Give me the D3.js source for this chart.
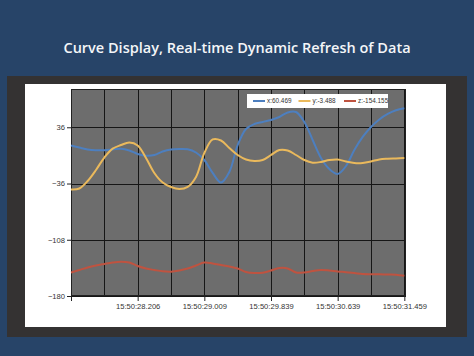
<!DOCTYPE html>
<html>
<head>
<meta charset="utf-8">
<script src="https://cdn.jsdelivr.net/npm/d3@7"></script>
<style>
  html, body { margin: 0; padding: 0; background: #274468; }
  svg { display: block; }
</style>
</head>
<body>
<div id="chart"></div>
<script>
// sample index (x), one point every 2.5 samples
const sampleIdx = d3.range(0, 100.01, 2.5);

const seriesX = [12.7, 10.1, 7.6, 6.6, 6.6, 7.6, 8.6, 6.3, 1.8, -0.4, 0.5, 5.0, 7.6, 8.2, 7.8, 3.7,
  -5.9, -22.5, -34.7, -21.2, 13.3, 33.8, 40.2, 42.8, 45.3, 49.2, 55.0, 55.6, 42.8, 19.7, -3.3,
  -17.4, -23.8, -13.6, 6.9, 23.6, 36.4, 46.0, 53.0, 57.8, 60.469];
const seriesY = [-43.6, -42.4, -32.8, -18.7, -2.7, 8.6, 13.3, 16.5, 12.7, -3.3, -22.5, -34.7, -40.4,
  -43.0, -40.4, -27.6, 3.1, 20.4, 19.1, 9.5, 0.5, -5.2, -7.1, -5.9, 0.5, 6.9, 6.3, 0.5, -5.9, -9.3,
  -8.4, -5.9, -5.2, -7.8, -9.7, -9.7, -7.8, -5.2, -4.3, -3.9, -3.488];
const seriesZ = [-149.9, -146.7, -143.5, -141.0, -139.0, -137.1, -136.1, -137.1, -141.6, -144.8,
  -146.7, -148.4, -148.9, -147.4, -144.8, -141.0, -137.1, -138.4, -140.3, -142.2, -144.8, -149.3,
  -150.6, -150.2, -147.4, -144.2, -144.8, -149.9, -149.9, -148.0, -146.7, -147.4, -148.6, -149.5,
  -150.6, -151.8, -152.1, -152.2, -152.5, -152.7, -154.155];

const seriesNames = ["x", "y", "z"];
const seriesColors = ["#4d7fbf", "#eab95c", "#bf5340"];

const yTicks = [36, -36, -108, -180];
const xGridIdx = d3.range(0, 101, 10);
const xTickIdx = [0, 20, 40, 60, 80, 100];
const xTickLabels = ["", "15:50:28.206", "15:50:29.009", "15:50:29.839", "15:50:30.639", "15:50:31.459"];

const width = 474, height = 356;
const smallFont = "'Liberation Sans', Arial, sans-serif";

const svg = d3.select("#chart").append("svg")
    .attr("width", width)
    .attr("height", height);

svg.append("rect").attr("width", width).attr("height", height).attr("fill", "#274468");

// title
svg.append("text")
    .attr("x", 237)
    .attr("y", 53)
    .attr("text-anchor", "middle")
    .attr("fill", "#f4f6f8")
    .attr("font-family", "'Open Sans', 'Noto Sans', sans-serif")
    .attr("font-size", 14.5)
    .attr("font-weight", 600)
    .text("Curve Display, Real-time Dynamic Refresh of Data");

// dark frame + white panel
svg.append("rect").attr("x", 7).attr("y", 76).attr("width", 460).attr("height", 261).attr("fill", "#343232");
svg.append("rect").attr("x", 25).attr("y", 84).attr("width", 421).attr("height", 243).attr("fill", "#ffffff");

const plot = { left: 71, right: 406, top: 89, bottom: 296 };

const x = d3.scaleLinear().domain([0, 100.5]).range([plot.left, plot.right]);
const y = d3.scaleLinear().domain([-180, 85]).range([plot.bottom, plot.top]);

svg.append("rect")
    .attr("x", plot.left).attr("y", plot.top)
    .attr("width", plot.right - plot.left).attr("height", plot.bottom - plot.top)
    .attr("fill", "#6d6d6d");

// grid
const grid = svg.append("g").attr("stroke", "#161616").attr("stroke-width", 1);
grid.selectAll("line.v")
    .data(xGridIdx)
    .enter().append("line")
    .attr("class", "v")
    .attr("x1", d => Math.round(x(d)) + 0.5).attr("x2", d => Math.round(x(d)) + 0.5)
    .attr("y1", plot.top).attr("y2", plot.bottom);
grid.selectAll("line.h")
    .data(yTicks)
    .enter().append("line")
    .attr("class", "h")
    .attr("x1", plot.left).attr("x2", plot.right)
    .attr("y1", d => Math.round(y(d)) + 0.5).attr("y2", d => Math.round(y(d)) + 0.5);

svg.append("rect")
    .attr("x", plot.left + 0.5).attr("y", plot.top + 0.5)
    .attr("width", plot.right - plot.left - 1).attr("height", plot.bottom - plot.top - 1)
    .attr("fill", "none")
    .attr("stroke", "#222")
    .attr("stroke-width", 1);

// axes
const yAxis = svg.append("g")
    .attr("transform", `translate(${plot.left},0)`)
    .call(d3.axisLeft(y).tickValues(yTicks).tickSize(4).tickPadding(2).tickSizeOuter(0));
const xAxis = svg.append("g")
    .attr("transform", `translate(0,${plot.bottom})`)
    .call(d3.axisBottom(x).tickValues(xTickIdx).tickSize(5).tickPadding(3).tickSizeOuter(0)
        .tickFormat((d, i) => xTickLabels[i]));

[yAxis, xAxis].forEach(a => {
    a.select(".domain").remove();
    a.selectAll(".tick line").attr("stroke", "#222");
    a.selectAll("text")
        .attr("fill", "#333")
        .attr("font-family", smallFont)
        .attr("font-size", 7.6);
});

// lines
const data = [seriesX, seriesY, seriesZ];
const line = d3.line()
    .x((d, i) => x(sampleIdx[i]))
    .y(d => y(d))
    .curve(d3.curveCatmullRom);

svg.append("g").selectAll("path")
    .data(data)
    .enter().append("path")
    .attr("d", line)
    .attr("fill", "none")
    .attr("stroke", (d, i) => seriesColors[i])
    .attr("stroke-width", 2)
    .attr("stroke-linejoin", "round");

// legend
const legend = svg.append("g").attr("transform", "translate(247,94)");
legend.append("rect")
    .attr("width", 141).attr("height", 14)
    .attr("fill", "#ffffff");
const items = legend.selectAll("g.item")
    .data(seriesNames)
    .enter().append("g")
    .attr("class", "item")
    .attr("transform", (d, i) => `translate(${6 + i * 45.5},7)`);
items.append("line")
    .attr("x1", 0).attr("x2", 12)
    .attr("stroke", (d, i) => seriesColors[i])
    .attr("stroke-width", 2);
items.append("text")
    .attr("x", 14)
    .attr("dy", "0.35em")
    .attr("fill", "#333")
    .attr("font-family", smallFont)
    .attr("font-size", 6.4)
    .text((d, i) => `${d}:${data[i][data[i].length - 1]}`);
</script>
</body>
</html>
